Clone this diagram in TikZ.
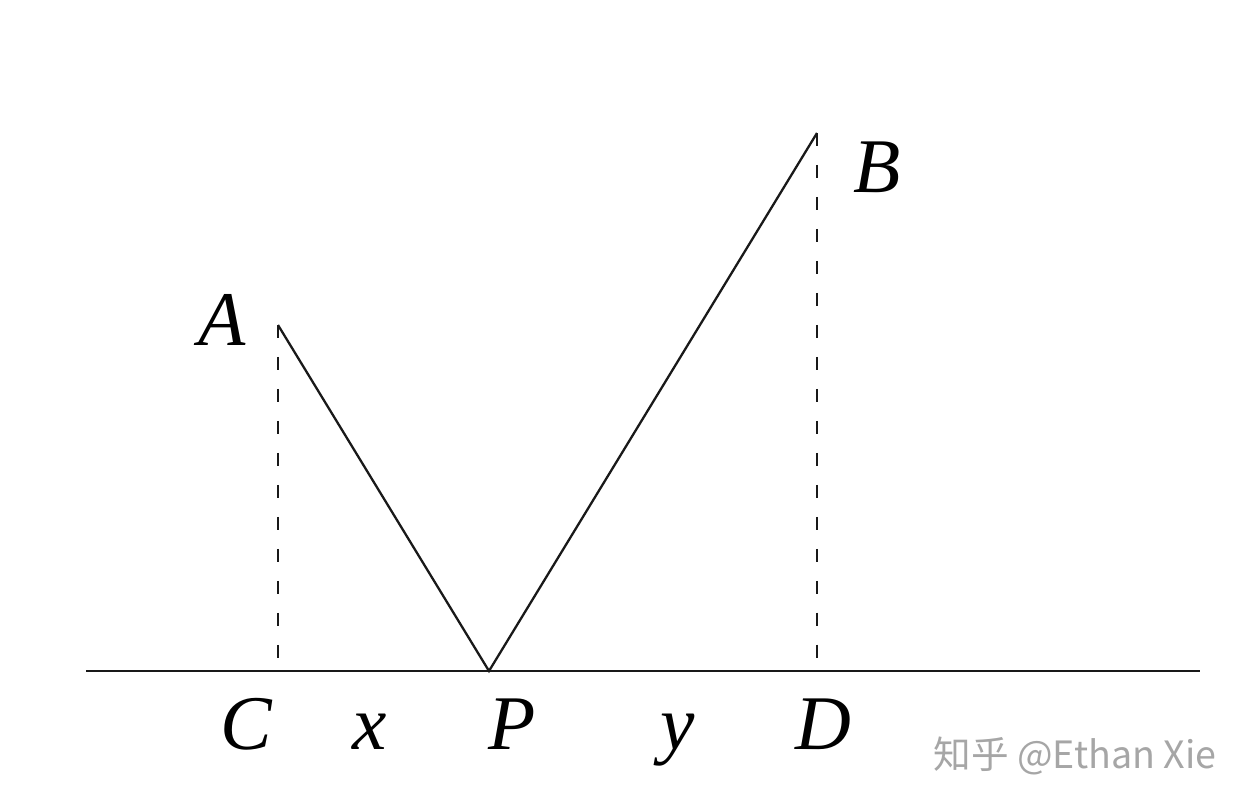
\documentclass[tikz,border=0pt]{standalone}
\usepackage{fontspec}
\setmainfont{Liberation Serif}
\newfontfamily\cjkmark{Noto Sans CJK SC}
\usetikzlibrary{calc}
\tikzset{
	seg/.style={line width=0.65pt, color=black!90},
	drop/.style={line width=0.65pt, color=black!90, dash pattern=on 3.7pt off 5.4pt},
	ptlabel/.style={font=\fontsize{22}{26}\selectfont\itshape, inner sep=0pt, anchor=base},
	markfont/.style={font=\fontsize{10.7}{12}\selectfont\cjkmark, color=black!35, inner sep=0pt, anchor=base west}
}
\begin{document}
\begin{tikzpicture}
			%%%%% START %%%%%
			\useasboundingbox (0, 0) rectangle (12.46, 8.04);
			
			\coordinate (L) at (0.86, 1.33);
			\coordinate (R) at (12.00, 1.33);
			\coordinate (A) at (2.78, 4.79);
			\coordinate (C) at (2.78, 1.33);
			\coordinate (P) at (4.89, 1.33);
			\coordinate (B) at (8.17, 6.71);
			\coordinate (D) at (8.17, 1.33);
			
			\draw[seg] (L) -- (R);
			\draw[seg] (A) -- (P) -- (B);
			
			\draw[drop] (A) -- (C);
			\draw[drop] (B) -- (D);
			
			\node[ptlabel] (labA) at (2.22, 4.59) {A};
			\node[ptlabel] (labB) at (8.77, 6.12) {B};
			\node[ptlabel] (labC) at (2.46, 0.55) {C};
			\node[ptlabel] (labx) at (3.70, 0.55) {x};
			\node[ptlabel] (labP) at (5.12, 0.55) {P};
			\node[ptlabel] (laby) at (6.78, 0.55) {y};
			\node[ptlabel] (labD) at (8.23, 0.55) {D};
			
			\node[markfont] (mark) at (9.33, 0.36) {知乎 @Ethan Xie};
			
			%%%%% END %%%%%
		\end{tikzpicture}
\end{document}
